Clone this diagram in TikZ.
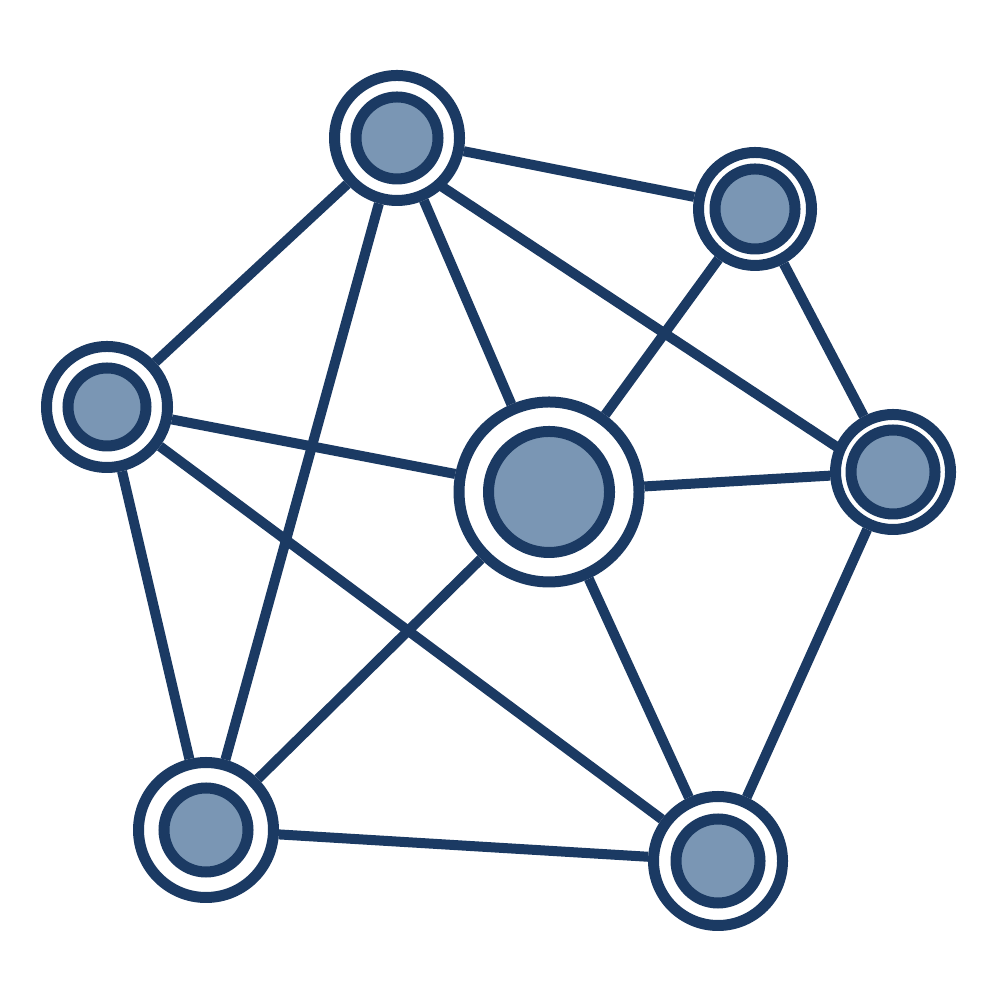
\documentclass[tikz,border=0pt]{standalone}
\usetikzlibrary{backgrounds}
\definecolor{netblue}{RGB}{27,58,99}
\definecolor{netfill}{RGB}{122,150,180}
\begin{document}
\begin{tikzpicture}[
hub/.style={circle,draw=netblue,line width=1.1mm,fill=white,inner sep=0pt},
core/.style={circle,draw=netblue,line width=1.1mm,fill=netfill,inner sep=0pt},
link/.style={draw=netblue,line width=1mm}]
\useasboundingbox (0,0) rectangle (10,10);
% rings with their filled cores
\foreach \n/\x/\y/\r/\s in {top/3.97/8.62/1.25/0.82, ne/7.55/7.91/1.13/0.80,
  w/1.07/5.93/1.21/0.78, mid/5.49/5.08/1.80/1.21, e/8.93/5.28/1.15/0.84,
  sw/2.06/1.70/1.35/0.84, se/7.18/1.39/1.29/0.84}
{
  \node[hub,minimum size=\r cm] (\n) at (\x,\y) {};
  \node[core,minimum size=\s cm] (\n-core) at (\x,\y) {};
}
\begin{scope}[on background layer]
\fill[white] (0,0) rectangle (10,10);
\foreach \a/\b in {top/ne, top/w, top/mid, top/sw, ne/mid, ne/e, w/mid, w/sw,
  w/se, mid/e, mid/sw, mid/se, sw/se, e/se}
  \draw[link] (\a) -- (\b);
\draw[link] ([yshift=-1.9mm]top.center) -- ([yshift=-1.2mm]e.center);
\end{scope}
\end{tikzpicture}
\end{document}
